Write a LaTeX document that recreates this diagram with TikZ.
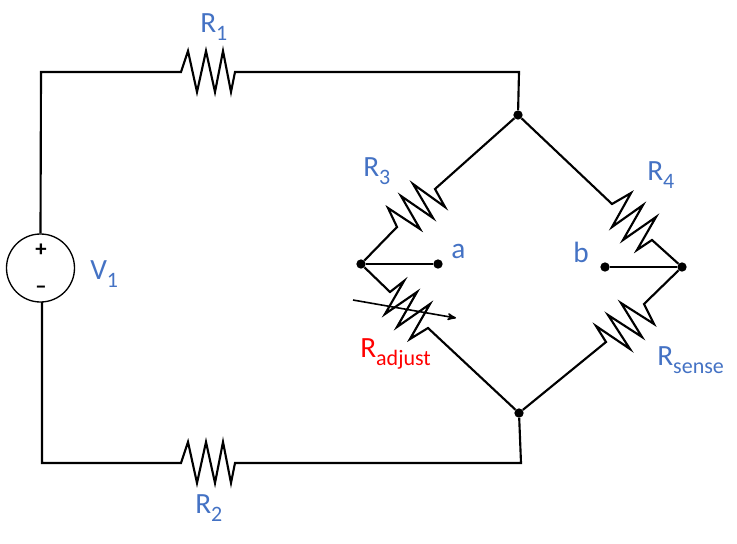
\documentclass[tikz,border=0pt]{standalone}
\usepackage{fontspec}
\setmainfont{Carlito}
\usetikzlibrary{arrows}
\definecolor{labelblue}{HTML}{4472C4}
\newcommand{\Sub}[1]{\raisebox{-6pt}{\fontsize{16.5}{18}\selectfont #1}}
\tikzset{
  wire/.style={line width=1.6pt, line join=miter},
  dot/.style={circle, fill=black, inner sep=0pt, minimum size=7pt},
  sign/.style={inner sep=0pt, font=\bfseries\fontsize{17}{17}\selectfont},
  lbl/.style={anchor=base west, inner sep=0pt, text=labelblue, font=\fontsize{22}{24}\selectfont},
  lblred/.style={lbl, text=red}
}
\begin{document}
\begin{tikzpicture}[>=stealth', x=0.75pt, y=-0.75pt]
\useasboundingbox (0,0) rectangle (737,543);
% Locations
\def\ResistorZig{-- ++(7,-21) -- ++(9,41) -- ++(9,-41) -- ++(9,41) -- ++(8,-41) -- ++(8,41) -- ++(4,-20)}

% Bridge corners
\path (518,115) node[dot] (Top) {}
      (519,413) node[dot] (Bottom) {}
      (361,264) node[dot] (Left) {}
      (682,267) node[dot] (Right) {}
      (438,264) node[dot] (A) {}
      (605,267) node[dot] (B) {};

% Source
\node[draw, circle, line width=1pt, minimum size=51pt, inner sep=0pt] (Source) at (40.5,268) {};
\node[sign] (Plus) at (41,250) {+};
\node[sign] (Minus) at (41,290) {--};

% Outer loop
\coordinate (SourceLow) at (42,302);
\coordinate (TopLeft) at (41,72);
\coordinate (TopRight) at (519,72);
\coordinate (BottomLeft) at (42,463);
\coordinate (BottomRight) at (521,463);
\coordinate (R1Begin) at (181,72);
\coordinate (R1End) at (235,72);
\coordinate (R2Begin) at (181,463);
\coordinate (R2End) at (235,463);

\draw[wire] (Source.north) -- (TopLeft) -- (R1Begin) \ResistorZig -- (R1End) -- (TopRight) -- (Top);
\draw[wire] (SourceLow) -- (BottomLeft) -- (R2Begin) \ResistorZig -- (R2End) -- (BottomRight) -- (Bottom);

% Arms
\draw[wire] (Left) -- (397,227) -- (388,208) -- (420,229) -- (401,196) -- (433,218) -- (413,184) -- (445,207) -- (435,189) -- (Top);
\draw[wire] (Top) -- (612,204) -- (631,193) -- (612,227) -- (643,205) -- (623,240) -- (656,217) -- (637,250) -- (652,240) -- (Right);
\draw[wire] (Left) -- (390,292) -- (404,281) -- (385,314) -- (417,292) -- (397,327) -- (430,304) -- (410,339) -- (428,328) -- (Bottom);
\draw[wire] (Right) -- (644,304) -- (654,324) -- (621,303) -- (642,337) -- (608,315) -- (630,349) -- (596,326) -- (606,342) -- (Bottom);

% Probes
\draw[wire] (Left) -- (A);
\draw[wire] (Right) -- (B);

% Adjust arrow
\coordinate (AdjustBegin) at (353,300);
\coordinate (AdjustEnd) at (456,318);
\draw[->, line width=1.2pt] (AdjustBegin) -- (AdjustEnd);

% Labels
\node[lbl] (LabelR1) at (200,32) {R\Sub{1}};
\node[lbl] (LabelR2) at (195,513) {R\Sub{2}};
\node[lbl] (LabelR3) at (363,176) {R\Sub{3}};
\node[lbl] (LabelR4) at (647,180) {R\Sub{4}};
\node[lbl] (LabelRsense) at (657,365) {R\Sub{sense}};
\node[lblred] (LabelRadjust) at (360,357) {R\Sub{adjust}};
\node[lbl] (LabelV1) at (90,279) {V\Sub{1}};
\node[lbl] (LabelA) at (451,258) {a};
\node[lbl] (LabelB) at (573,262) {b};
\end{tikzpicture}
\end{document}
